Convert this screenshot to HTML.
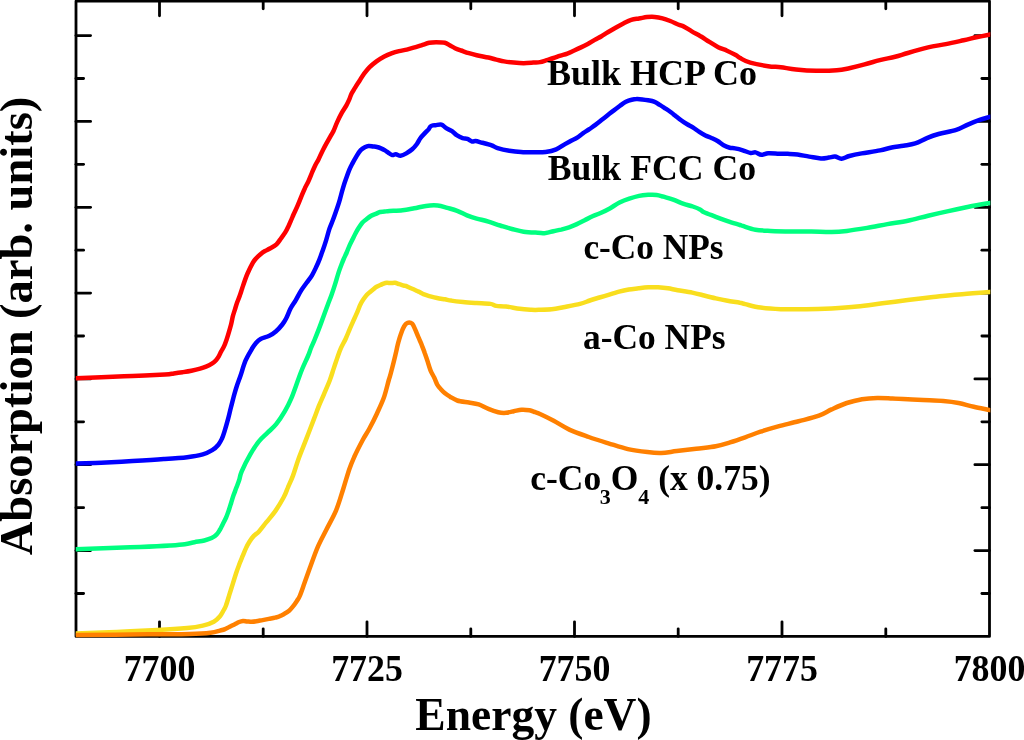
<!DOCTYPE html>
<html><head><meta charset="utf-8"><style>
html,body{margin:0;padding:0;background:#fff;width:1024px;height:740px;overflow:hidden}
svg{display:block}
text{font-family:"Liberation Serif","Times New Roman",serif;font-weight:bold;fill:#000}
</style></head><body>
<svg width="1024" height="740" viewBox="0 0 1024 740">
<g stroke="#000" stroke-width="2.8" stroke-linecap="round" fill="none">
<rect x="76" y="1.2" width="913.5" height="635.1999999999999" stroke-linejoin="round"/>
<line x1="159.5" y1="636.4" x2="159.5" y2="621.8"/>
<line x1="159.5" y1="1.2" x2="159.5" y2="15.8"/>
<line x1="263.2" y1="636.4" x2="263.2" y2="628.8"/>
<line x1="263.2" y1="1.2" x2="263.2" y2="8.8"/>
<line x1="367.0" y1="636.4" x2="367.0" y2="621.8"/>
<line x1="367.0" y1="1.2" x2="367.0" y2="15.8"/>
<line x1="470.8" y1="636.4" x2="470.8" y2="628.8"/>
<line x1="470.8" y1="1.2" x2="470.8" y2="8.8"/>
<line x1="574.5" y1="636.4" x2="574.5" y2="621.8"/>
<line x1="574.5" y1="1.2" x2="574.5" y2="15.8"/>
<line x1="678.2" y1="636.4" x2="678.2" y2="628.8"/>
<line x1="678.2" y1="1.2" x2="678.2" y2="8.8"/>
<line x1="782.0" y1="636.4" x2="782.0" y2="621.8"/>
<line x1="782.0" y1="1.2" x2="782.0" y2="15.8"/>
<line x1="885.8" y1="636.4" x2="885.8" y2="628.8"/>
<line x1="885.8" y1="1.2" x2="885.8" y2="8.8"/>
<line x1="76.0" y1="593.5" x2="83.6" y2="593.5"/>
<line x1="989.5" y1="593.5" x2="981.9" y2="593.5"/>
<line x1="76.0" y1="550.6" x2="90.6" y2="550.6"/>
<line x1="989.5" y1="550.6" x2="974.9" y2="550.6"/>
<line x1="76.0" y1="507.7" x2="83.6" y2="507.7"/>
<line x1="989.5" y1="507.7" x2="981.9" y2="507.7"/>
<line x1="76.0" y1="464.7" x2="90.6" y2="464.7"/>
<line x1="989.5" y1="464.7" x2="974.9" y2="464.7"/>
<line x1="76.0" y1="421.8" x2="83.6" y2="421.8"/>
<line x1="989.5" y1="421.8" x2="981.9" y2="421.8"/>
<line x1="76.0" y1="378.9" x2="90.6" y2="378.9"/>
<line x1="989.5" y1="378.9" x2="974.9" y2="378.9"/>
<line x1="76.0" y1="336.0" x2="83.6" y2="336.0"/>
<line x1="989.5" y1="336.0" x2="981.9" y2="336.0"/>
<line x1="76.0" y1="293.1" x2="90.6" y2="293.1"/>
<line x1="989.5" y1="293.1" x2="974.9" y2="293.1"/>
<line x1="76.0" y1="250.2" x2="83.6" y2="250.2"/>
<line x1="989.5" y1="250.2" x2="981.9" y2="250.2"/>
<line x1="76.0" y1="207.3" x2="90.6" y2="207.3"/>
<line x1="989.5" y1="207.3" x2="974.9" y2="207.3"/>
<line x1="76.0" y1="164.3" x2="83.6" y2="164.3"/>
<line x1="989.5" y1="164.3" x2="981.9" y2="164.3"/>
<line x1="76.0" y1="121.4" x2="90.6" y2="121.4"/>
<line x1="989.5" y1="121.4" x2="974.9" y2="121.4"/>
<line x1="76.0" y1="78.5" x2="83.6" y2="78.5"/>
<line x1="989.5" y1="78.5" x2="981.9" y2="78.5"/>
<line x1="76.0" y1="35.6" x2="90.6" y2="35.6"/>
<line x1="989.5" y1="35.6" x2="974.9" y2="35.6"/>
</g>
<defs><clipPath id="pc"><rect x="75.8" y="-10" width="914.5" height="760"/></clipPath></defs>
<g fill="none" stroke-width="4.5" stroke-linejoin="round" stroke-linecap="butt" clip-path="url(#pc)">
<path d="M73.0,378.3 C73.5,378.3 71.3,378.5 76.0,378.3 C80.7,378.1 91.8,377.7 101.2,377.3 C110.7,376.9 121.9,376.4 132.5,376.0 C143.1,375.6 158.1,375.0 165.0,374.6 C171.9,374.2 170.9,373.8 173.8,373.4 C176.7,373.0 179.7,372.6 182.6,372.2 C185.5,371.8 188.5,371.4 191.4,370.8 C194.3,370.2 197.7,369.4 200.1,368.7 C202.5,368.0 204.0,367.5 206.0,366.7 C208.0,365.9 210.2,364.8 211.9,363.7 C213.6,362.6 214.8,361.5 216.0,360.2 C217.2,358.9 218.0,357.6 218.9,356.1 C219.8,354.6 220.3,353.0 221.2,351.4 C222.1,349.8 223.2,348.2 224.1,346.2 C225.0,344.2 225.9,341.5 226.7,339.2 C227.5,336.9 228.2,334.7 228.9,332.2 C229.6,329.7 230.4,326.9 231.1,324.3 C231.8,321.7 232.2,318.9 232.8,316.4 C233.5,313.9 234.3,311.6 235.0,309.3 C235.7,307.0 236.4,304.6 237.2,302.3 C238.0,300.0 239.1,297.7 239.9,295.3 C240.8,292.9 241.1,291.6 242.3,288.0 C243.5,284.4 245.5,278.2 247.3,274.0 C249.1,269.8 251.4,265.4 252.9,262.7 C254.4,260.0 255.2,259.4 256.5,258.0 C257.8,256.6 259.1,255.4 260.5,254.2 C261.9,253.0 263.4,251.9 265.0,251.0 C266.6,250.1 268.0,249.6 269.9,248.5 C271.8,247.4 274.6,246.1 276.5,244.3 C278.4,242.5 279.9,239.8 281.4,237.8 C282.9,235.8 284.2,234.2 285.4,232.2 C286.6,230.2 287.6,228.0 288.7,225.7 C289.8,223.4 291.1,220.2 291.9,218.4 C292.7,216.6 292.4,217.1 293.3,215.0 C294.2,212.9 296.1,209.1 297.4,206.1 C298.7,203.1 299.9,200.1 301.1,197.1 C302.4,194.1 303.6,190.9 304.9,188.2 C306.1,185.5 307.4,183.5 308.6,180.8 C309.8,178.1 311.2,174.5 312.3,171.9 C313.4,169.3 314.3,167.3 315.3,165.2 C316.3,163.1 317.3,161.9 318.5,159.5 C319.7,157.1 321.2,153.4 322.6,150.7 C324.0,148.0 325.2,145.7 326.6,143.2 C328.0,140.7 329.6,137.8 330.7,135.8 C331.8,133.8 332.4,133.4 333.5,131.0 C334.6,128.6 336.0,124.6 337.4,121.6 C338.8,118.5 340.4,115.4 341.9,112.7 C343.4,110.0 345.2,107.5 346.4,105.3 C347.6,103.1 348.4,101.3 349.3,99.3 C350.2,97.3 350.6,95.4 351.6,93.4 C352.6,91.4 354.0,89.6 355.3,87.4 C356.6,85.2 358.3,82.7 359.7,80.5 C361.1,78.3 362.1,76.3 363.8,74.1 C365.5,71.9 367.5,69.3 369.6,67.2 C371.7,65.1 374.1,63.2 376.5,61.4 C378.9,59.6 381.7,57.9 384.3,56.5 C386.9,55.1 389.7,54.0 392.1,53.1 C394.6,52.2 396.6,51.7 399.0,51.1 C401.4,50.5 404.4,50.2 406.8,49.6 C409.2,49.0 411.2,48.4 413.6,47.7 C416.0,47.0 418.8,46.1 421.4,45.3 C424.0,44.5 426.8,43.3 429.2,42.8 C431.6,42.3 433.5,42.3 436.1,42.3 C438.7,42.3 442.5,42.3 444.8,42.8 C447.1,43.3 448.0,44.4 449.7,45.3 C451.4,46.2 453.1,47.3 455.0,48.2 C456.9,49.1 458.8,49.7 461.1,50.5 C463.4,51.3 466.3,52.4 468.9,53.2 C471.5,54.0 473.4,54.5 476.7,55.2 C479.9,55.9 485.1,56.8 488.4,57.5 C491.7,58.2 493.7,59.0 496.3,59.6 C498.9,60.2 501.2,60.9 504.1,61.4 C507.0,61.9 510.5,62.3 513.8,62.6 C517.0,62.9 520.3,63.2 523.6,63.2 C526.9,63.2 530.7,62.8 533.4,62.6 C536.1,62.4 537.8,62.5 540.0,62.1 C542.2,61.7 544.5,60.8 546.8,60.1 C549.1,59.4 551.4,58.8 553.7,58.0 C556.0,57.2 558.2,56.3 560.5,55.6 C562.8,54.9 565.0,54.5 567.3,53.6 C569.6,52.8 571.9,51.5 574.2,50.5 C576.5,49.5 578.7,48.5 581.0,47.4 C583.3,46.3 585.5,45.2 587.8,44.0 C590.1,42.8 592.4,41.2 594.7,39.9 C597.0,38.6 599.3,37.5 601.5,36.2 C603.7,34.9 605.4,33.7 607.8,32.3 C610.1,30.9 613.0,29.2 615.6,27.7 C618.2,26.2 620.8,24.7 623.4,23.4 C626.0,22.1 628.6,20.6 631.2,19.8 C633.9,19.0 636.4,18.9 639.0,18.5 C641.6,18.1 644.3,17.4 646.9,17.1 C649.5,16.8 652.1,16.7 654.7,16.9 C657.3,17.1 659.9,17.6 662.5,18.3 C665.1,19.0 667.7,20.0 670.3,21.0 C672.9,22.0 676.0,23.6 678.1,24.5 C680.2,25.4 680.7,25.0 683.0,26.1 C685.3,27.2 688.9,29.7 691.8,31.4 C694.7,33.1 697.7,34.5 700.6,36.3 C703.5,38.0 706.5,40.1 709.4,41.9 C712.3,43.7 715.3,45.7 718.2,47.2 C721.1,48.7 724.1,49.4 727.0,50.7 C729.9,52.0 733.5,53.9 735.7,55.1 C737.9,56.3 737.8,56.8 740.2,58.1 C742.6,59.4 745.6,61.4 750.3,62.7 C754.9,64.0 763.0,65.5 768.1,66.2 C773.2,67.0 776.1,66.7 780.8,67.2 C785.4,67.8 790.1,68.9 796.0,69.5 C801.9,70.1 809.5,70.7 816.3,70.8 C823.1,70.9 831.2,70.7 836.7,70.3 C842.2,69.9 844.6,69.2 849.3,68.2 C853.9,67.2 859.5,65.8 864.6,64.4 C869.7,63.1 874.7,61.4 879.8,60.1 C884.9,58.8 890.4,58.0 895.1,56.8 C899.8,55.6 902.2,54.6 907.8,53.0 C913.2,51.4 921.8,48.9 928.1,47.4 C934.4,45.9 939.9,45.3 945.8,44.1 C951.7,42.9 958.5,41.4 963.6,40.3 C968.7,39.2 972.1,38.2 976.3,37.3 C980.5,36.4 986.2,35.3 989.0,34.7 C991.8,34.1 992.3,34.0 993.0,33.9" stroke="#ff0000"/>
<path d="M73.0,463.6 C73.5,463.6 71.3,463.8 76.0,463.6 C80.7,463.5 91.8,463.1 101.2,462.7 C110.7,462.3 122.1,461.7 132.5,461.1 C142.9,460.5 154.6,459.8 163.8,459.1 C172.9,458.5 180.7,458.0 187.2,457.2 C193.7,456.4 198.6,455.6 202.8,454.4 C207.0,453.2 209.6,451.8 212.2,450.2 C214.8,448.6 216.8,446.6 218.4,444.7 C220.0,442.8 221.0,440.6 222.0,438.5 C223.0,436.4 223.3,435.4 224.3,432.1 C225.3,428.8 227.0,422.9 228.1,418.8 C229.2,414.7 229.9,411.3 230.9,407.5 C231.9,403.7 232.9,399.7 233.8,396.2 C234.8,392.7 235.5,390.1 236.6,386.7 C237.7,383.3 238.9,380.3 240.4,376.0 C241.9,371.7 243.6,365.2 245.5,360.7 C247.4,356.2 250.2,351.8 251.9,348.8 C253.7,345.9 254.6,344.6 256.0,343.0 C257.4,341.4 258.4,340.2 260.6,339.0 C262.8,337.8 266.8,337.1 269.3,335.8 C271.8,334.6 273.6,333.4 275.8,331.5 C278.0,329.6 280.6,326.7 282.3,324.5 C284.0,322.3 284.8,321.1 286.1,318.5 C287.5,315.9 288.8,311.9 290.4,308.8 C292.0,305.7 294.0,303.2 295.8,300.1 C297.6,297.0 299.4,293.3 301.2,290.4 C303.0,287.5 304.8,285.3 306.6,282.8 C308.4,280.3 310.4,278.0 312.0,275.3 C313.6,272.6 315.1,269.3 316.4,266.6 C317.7,263.9 318.5,261.9 319.6,259.1 C320.7,256.3 321.8,253.1 322.9,250.0 C324.0,246.9 325.0,243.8 326.1,240.3 C327.2,236.8 328.3,232.2 329.4,228.9 C330.5,225.7 331.5,223.6 332.6,220.8 C333.7,218.0 334.7,215.0 335.8,211.9 C336.9,208.8 337.9,206.1 339.1,202.2 C340.3,198.3 341.7,192.2 342.9,188.3 C344.1,184.4 345.0,181.7 346.1,178.6 C347.2,175.5 348.3,172.2 349.4,169.6 C350.5,167.0 351.4,165.4 352.6,163.1 C353.8,160.8 355.4,158.0 356.7,155.8 C358.0,153.7 359.3,151.6 360.7,150.2 C362.1,148.8 363.4,148.0 364.8,147.3 C366.2,146.6 367.5,146.1 368.8,145.9 C370.1,145.8 371.5,146.2 372.9,146.4 C374.2,146.6 375.5,146.7 376.9,147.0 C378.2,147.3 379.6,147.8 381.0,148.4 C382.4,149.0 383.8,149.7 385.0,150.4 C386.2,151.1 387.3,152.0 388.5,152.8 C389.7,153.6 391.1,154.8 392.3,155.1 C393.5,155.3 394.4,154.2 395.8,154.3 C397.2,154.4 398.8,155.8 400.5,155.7 C402.2,155.5 404.4,154.5 406.3,153.4 C408.2,152.3 410.4,150.9 412.2,149.3 C414.0,147.7 415.5,145.9 416.9,144.0 C418.3,142.1 419.0,139.9 420.4,138.1 C421.8,136.2 423.7,134.4 425.1,132.9 C426.5,131.4 427.7,130.4 428.6,129.3 C429.5,128.2 429.7,127.2 430.4,126.5 C431.1,125.8 432.1,125.6 433.0,125.4 C433.9,125.2 434.2,125.3 435.6,125.2 C437.0,125.1 439.7,124.1 441.5,124.6 C443.3,125.1 444.4,127.1 446.2,128.2 C447.9,129.3 450.2,129.9 452.0,131.1 C453.8,132.3 454.9,134.0 456.7,135.2 C458.5,136.4 460.8,137.5 462.6,138.1 C464.4,138.7 465.7,138.3 467.3,138.9 C468.9,139.5 470.6,141.2 472.0,141.5 C473.4,141.8 473.8,140.8 475.5,141.0 C477.2,141.2 479.8,142.1 482.5,142.8 C485.2,143.5 489.2,144.5 491.7,145.4 C494.2,146.3 494.7,147.2 497.6,148.1 C500.5,149.0 505.4,150.1 509.3,150.7 C513.2,151.3 517.1,151.7 521.0,151.9 C524.9,152.2 528.6,152.2 532.8,152.2 C536.9,152.2 541.7,152.4 545.6,151.9 C549.5,151.4 553.0,150.6 556.2,149.3 C559.4,148.0 562.5,145.5 565.0,144.1 C567.5,142.7 569.1,141.8 571.1,140.7 C573.1,139.6 575.2,139.0 577.2,137.7 C579.2,136.4 581.2,134.5 583.2,133.1 C585.2,131.7 587.3,130.6 589.3,129.2 C591.3,127.8 593.4,126.4 595.4,124.9 C597.4,123.4 599.5,121.7 601.5,120.1 C603.5,118.5 605.6,116.8 607.6,115.2 C609.6,113.6 611.5,112.2 613.6,110.6 C615.7,109.0 618.0,107.3 620.0,105.8 C622.0,104.3 623.9,102.7 625.9,101.7 C627.9,100.7 630.0,100.1 631.7,99.7 C633.5,99.3 634.6,99.1 636.4,99.1 C638.2,99.0 640.3,99.2 642.3,99.4 C644.2,99.6 646.1,99.9 648.1,100.3 C650.1,100.7 652.0,100.9 654.0,101.7 C656.0,102.5 657.8,103.7 659.8,104.9 C661.8,106.1 663.7,107.4 665.7,108.7 C667.7,110.0 670.1,111.7 671.6,112.8 C673.1,113.9 673.4,114.2 675.0,115.4 C676.6,116.7 679.1,118.8 681.1,120.3 C683.1,121.8 685.2,123.1 687.2,124.3 C689.2,125.5 691.2,126.3 693.2,127.6 C695.2,128.9 697.3,130.6 699.3,131.9 C701.3,133.2 703.4,134.5 705.4,135.5 C707.4,136.5 709.5,137.1 711.5,138.0 C713.5,138.9 715.6,139.8 717.6,141.0 C719.6,142.2 721.6,144.2 723.6,145.3 C725.6,146.4 727.8,147.2 729.7,147.7 C731.6,148.2 732.8,148.0 735.0,148.4 C737.2,148.8 740.2,149.5 742.8,150.3 C745.4,151.1 748.5,152.7 750.6,153.0 C752.7,153.3 753.7,152.1 755.5,152.4 C757.3,152.7 759.3,154.7 761.4,154.8 C763.5,155.0 765.3,153.5 768.2,153.3 C771.1,153.1 775.8,153.6 779.0,153.7 C782.2,153.8 784.6,153.7 787.7,153.8 C790.8,154.0 793.9,154.1 797.5,154.6 C801.1,155.1 805.3,156.0 809.2,156.6 C813.1,157.2 817.6,158.2 820.9,158.4 C824.2,158.6 826.4,157.9 828.8,157.6 C831.1,157.3 832.9,156.4 835.0,156.6 C837.1,156.8 839.1,158.8 841.5,158.7 C843.9,158.6 846.0,156.9 849.4,156.0 C852.8,155.1 856.6,154.3 861.7,153.4 C866.8,152.5 875.0,151.4 880.0,150.4 C885.0,149.4 887.8,148.3 891.7,147.5 C895.6,146.7 899.5,146.4 903.4,145.7 C907.3,145.0 911.3,144.7 915.2,143.4 C919.1,142.1 923.0,139.7 926.9,138.1 C930.8,136.5 933.7,135.4 938.6,134.0 C943.5,132.6 951.3,131.5 956.2,129.9 C961.1,128.3 964.0,126.3 967.9,124.6 C971.8,122.9 975.9,121.2 979.6,119.9 C983.3,118.6 987.8,117.5 990.0,116.8 C992.2,116.1 992.5,116.1 993.0,115.9" stroke="#0000ff"/>
<path d="M73.0,549.3 C73.5,549.3 69.8,549.5 76.0,549.3 C82.2,549.1 99.3,548.4 110.0,548.0 C120.7,547.6 130.0,547.4 140.0,547.0 C150.0,546.6 162.5,546.0 170.0,545.5 C177.5,545.0 180.7,544.8 184.8,544.2 C188.9,543.7 191.2,542.8 194.5,542.2 C197.8,541.6 201.5,541.2 204.3,540.5 C207.2,539.8 209.6,539.1 211.6,538.1 C213.6,537.1 215.1,536.0 216.5,534.6 C217.9,533.2 218.9,531.4 219.9,529.8 C220.9,528.2 221.4,526.9 222.4,524.9 C223.4,522.9 224.9,520.2 226.0,517.8 C227.1,515.3 227.9,512.7 228.8,510.2 C229.7,507.7 230.4,505.2 231.2,502.7 C232.0,500.2 232.7,497.6 233.6,495.1 C234.5,492.6 235.5,490.1 236.4,487.6 C237.3,485.1 238.3,482.7 239.2,480.0 C240.1,477.3 239.8,475.9 241.6,471.6 C243.4,467.3 247.4,459.3 250.3,454.3 C253.2,449.3 256.0,445.0 258.9,441.4 C261.8,437.8 264.7,435.6 267.6,432.7 C270.5,429.8 273.3,427.7 276.2,424.1 C279.1,420.5 282.4,415.4 284.9,411.1 C287.4,406.8 289.2,403.2 291.4,398.1 C293.5,393.1 296.0,385.7 297.8,380.8 C299.6,375.9 300.5,373.1 302.2,369.0 C303.9,364.9 306.3,360.0 307.8,356.5 C309.3,353.0 309.9,350.8 311.0,348.0 C312.1,345.2 313.1,343.4 314.5,340.0 C315.9,336.6 317.7,332.1 319.3,327.9 C320.9,323.6 322.8,318.4 324.2,314.5 C325.6,310.6 326.6,307.9 327.8,304.7 C329.0,301.4 330.3,298.4 331.5,295.0 C332.7,291.6 333.9,288.0 335.1,284.1 C336.3,280.2 337.7,275.2 338.8,271.9 C339.9,268.6 340.7,266.6 341.5,264.5 C342.3,262.4 342.8,261.0 343.7,259.0 C344.6,257.0 345.7,254.8 346.7,252.5 C347.7,250.2 348.7,247.3 349.7,245.1 C350.7,242.9 351.6,241.2 352.6,239.2 C353.6,237.2 354.6,235.1 355.6,233.2 C356.6,231.3 357.5,229.7 358.6,228.0 C359.7,226.3 361.0,224.3 362.3,222.8 C363.6,221.3 365.2,220.3 366.7,219.1 C368.2,217.9 369.7,216.7 371.2,215.8 C372.7,214.9 374.2,214.5 375.7,213.9 C377.2,213.3 378.6,212.4 380.1,212.0 C381.6,211.6 383.0,211.8 384.6,211.6 C386.2,211.4 386.5,211.2 389.5,211.0 C392.5,210.8 398.4,210.6 402.5,210.2 C406.6,209.8 410.3,209.0 414.2,208.3 C418.1,207.6 422.0,206.4 425.9,205.9 C429.8,205.4 434.1,205.2 437.7,205.5 C441.3,205.8 444.1,207.0 447.4,207.9 C450.6,208.8 453.9,209.6 457.2,210.8 C460.5,212.0 463.8,214.0 467.0,215.3 C470.2,216.6 473.1,217.6 476.7,218.6 C480.3,219.6 484.5,220.4 488.4,221.6 C492.3,222.8 496.3,224.3 500.2,225.5 C504.1,226.7 508.0,228.0 511.9,229.0 C515.8,230.0 519.3,231.1 523.6,231.7 C527.9,232.3 534.1,232.5 537.8,232.7 C541.5,232.9 543.0,233.3 545.6,233.1 C548.2,232.8 550.8,231.8 553.4,231.2 C556.0,230.6 558.6,230.2 561.2,229.6 C563.9,228.9 566.5,228.2 569.1,227.3 C571.7,226.4 574.3,225.3 576.9,224.1 C579.5,222.9 582.1,221.5 584.7,220.2 C587.3,218.9 590.0,217.5 592.5,216.3 C595.0,215.2 597.1,214.6 600.0,213.3 C602.9,212.0 606.5,210.2 609.8,208.4 C613.0,206.6 616.2,204.2 619.5,202.6 C622.8,201.0 626.0,199.8 629.3,198.7 C632.6,197.6 635.9,196.6 639.1,195.9 C642.4,195.2 645.9,195.0 648.8,194.8 C651.7,194.6 654.1,194.6 656.6,194.9 C659.1,195.2 660.7,195.9 663.5,196.7 C666.3,197.5 670.0,198.4 673.2,199.6 C676.5,200.8 679.7,202.4 683.0,203.6 C686.3,204.8 690.0,205.5 692.8,206.5 C695.6,207.5 698.1,208.4 700.0,209.4 C701.9,210.4 701.5,211.1 704.1,212.3 C706.7,213.5 711.9,215.3 715.8,216.8 C719.7,218.3 723.5,219.7 727.5,221.1 C731.5,222.5 737.5,224.2 740.0,225.0 C742.5,225.8 740.1,225.1 742.7,225.9 C745.3,226.7 750.8,228.9 755.4,229.7 C760.0,230.5 764.7,230.6 770.6,230.9 C776.5,231.2 784.2,231.4 791.0,231.5 C797.8,231.6 804.5,231.4 811.3,231.5 C818.1,231.6 825.7,232.1 831.6,232.0 C837.5,231.9 840.9,231.6 846.8,230.9 C852.7,230.2 860.3,229.0 867.1,227.9 C873.9,226.8 880.6,225.3 887.4,224.1 C894.2,222.9 901.0,222.2 907.8,220.8 C914.5,219.4 921.3,217.3 928.1,215.7 C934.9,214.1 941.6,212.6 948.4,211.1 C955.2,209.6 961.8,208.2 968.7,206.8 C975.6,205.5 986.0,203.7 990.0,203.0 C994.0,202.3 992.5,202.6 993.0,202.5" stroke="#00ff80"/>
<path d="M73.0,633.4 C73.5,633.4 68.7,633.6 76.0,633.4 C83.3,633.1 103.3,632.5 116.9,631.9 C130.5,631.3 145.8,630.6 157.5,630.0 C169.2,629.4 179.6,628.7 187.2,628.0 C194.8,627.3 198.4,626.6 202.8,625.6 C207.2,624.6 210.9,623.3 213.8,621.7 C216.6,620.1 218.4,618.1 220.0,616.2 C221.6,614.4 222.5,612.3 223.5,610.5 C224.5,608.7 224.9,608.3 225.9,605.7 C226.9,603.1 228.2,598.5 229.3,594.9 C230.4,591.3 231.6,587.7 232.7,584.1 C233.8,580.5 235.0,576.6 236.1,573.2 C237.2,569.8 238.4,566.7 239.5,563.8 C240.6,560.9 241.7,558.4 242.8,555.7 C243.9,553.0 245.1,550.0 246.2,547.6 C247.3,545.2 248.4,543.4 249.6,541.5 C250.8,539.6 252.0,537.8 253.6,536.1 C255.2,534.4 256.9,533.7 259.0,531.4 C261.1,529.1 263.7,525.5 266.4,522.2 C269.1,518.9 272.2,515.5 275.1,511.4 C278.0,507.2 281.5,501.4 283.7,497.3 C285.9,493.2 286.6,490.6 288.1,487.0 C289.7,483.4 291.4,479.9 293.0,475.6 C294.6,471.3 296.2,465.6 297.8,461.0 C299.4,456.4 300.9,452.7 302.7,448.1 C304.5,443.5 306.5,438.4 308.4,433.5 C310.3,428.6 312.2,423.5 314.0,418.9 C315.8,414.3 317.3,409.9 318.9,405.9 C320.5,401.8 322.0,398.9 323.8,394.6 C325.6,390.3 328.3,384.2 329.9,380.0 C331.5,375.8 332.3,372.8 333.5,369.1 C334.7,365.5 336.0,361.6 337.2,358.1 C338.4,354.7 339.4,351.6 340.8,348.4 C342.2,345.2 344.3,341.8 345.7,338.7 C347.1,335.6 348.1,333.0 349.3,330.1 C350.5,327.2 351.6,324.8 353.0,321.6 C354.4,318.5 356.5,314.1 357.7,311.2 C358.9,308.3 359.4,306.4 360.4,304.4 C361.4,302.4 362.5,300.6 363.6,299.0 C364.7,297.4 365.8,295.9 366.9,294.7 C368.0,293.5 369.0,292.9 370.1,292.0 C371.2,291.1 372.3,290.2 373.4,289.3 C374.5,288.4 375.4,287.5 376.6,286.8 C377.8,286.1 379.2,285.5 380.4,285.0 C381.6,284.5 382.5,284.0 383.6,283.6 C384.7,283.2 385.7,282.9 386.9,282.8 C388.1,282.7 389.3,283.1 390.7,283.1 C392.1,283.1 393.6,282.6 395.0,282.8 C396.4,283.0 397.9,283.8 399.3,284.2 C400.7,284.6 402.5,285.2 403.6,285.5 C404.7,285.8 404.5,285.4 405.8,285.9 C407.1,286.4 409.5,287.6 411.6,288.5 C413.7,289.4 416.5,290.7 418.5,291.6 C420.5,292.6 421.6,293.4 423.4,294.2 C425.2,294.9 426.9,295.5 429.2,296.1 C431.5,296.7 434.4,297.5 437.0,298.0 C439.6,298.5 442.4,298.9 444.8,299.3 C447.2,299.7 448.3,300.2 451.3,300.6 C454.3,301.1 458.8,301.6 463.0,302.0 C467.2,302.4 472.1,302.7 476.7,303.0 C481.3,303.3 487.1,303.4 490.4,303.9 C493.7,304.4 493.7,305.5 496.3,305.9 C498.9,306.3 502.1,306.0 506.0,306.5 C509.9,307.0 515.5,308.2 519.7,308.8 C523.9,309.4 528.0,309.6 531.4,309.8 C534.8,310.0 536.6,309.9 540.0,309.8 C543.4,309.7 547.8,309.6 551.7,309.2 C555.6,308.8 558.7,308.1 563.4,307.2 C568.1,306.3 575.6,305.0 580.0,303.9 C584.4,302.8 586.5,301.6 589.8,300.5 C593.0,299.4 596.2,298.5 599.5,297.5 C602.8,296.5 606.0,295.6 609.3,294.6 C612.6,293.6 615.9,292.6 619.1,291.7 C622.4,290.8 625.5,290.1 628.8,289.5 C632.0,288.9 635.3,288.7 638.6,288.3 C641.9,287.9 645.1,287.5 648.4,287.3 C651.6,287.1 654.9,287.1 658.1,287.3 C661.4,287.5 664.6,287.8 667.9,288.3 C671.2,288.8 673.6,289.5 677.7,290.2 C681.8,290.9 687.9,291.7 692.3,292.6 C696.7,293.5 700.2,294.5 704.1,295.5 C708.0,296.5 711.9,297.5 715.8,298.4 C719.7,299.3 723.5,300.1 727.5,300.8 C731.5,301.5 737.0,302.1 740.0,302.7 C743.0,303.2 741.8,303.3 745.2,304.1 C748.6,304.9 754.6,306.8 760.5,307.6 C766.4,308.5 773.2,308.9 780.8,309.2 C788.4,309.5 797.7,309.3 806.2,309.2 C814.7,309.1 823.1,308.8 831.6,308.4 C840.1,308.0 848.5,307.5 857.0,306.6 C865.5,305.8 873.9,304.4 882.4,303.3 C890.9,302.2 899.3,301.1 907.8,300.0 C916.2,298.9 924.6,297.9 933.1,297.0 C941.6,296.1 949.0,295.2 958.5,294.4 C968.0,293.5 984.2,292.4 990.0,291.9 C995.8,291.4 992.5,291.7 993.0,291.7" stroke="#f9de1e"/>
<path d="M73.0,635.0 C73.5,635.0 63.5,635.1 76.0,635.0 C88.5,634.9 129.1,634.5 148.0,634.3 C166.9,634.1 179.1,634.3 189.5,634.0 C199.9,633.7 205.4,633.3 210.5,632.7 C215.6,632.1 217.5,631.2 219.9,630.6 C222.3,630.0 223.4,629.8 225.0,629.1 C226.6,628.5 228.1,627.5 229.7,626.7 C231.3,625.9 232.8,625.2 234.4,624.4 C236.0,623.6 237.7,622.6 239.1,622.0 C240.5,621.4 241.7,621.0 243.0,620.9 C244.3,620.8 245.5,621.2 246.9,621.4 C248.3,621.5 250.0,621.8 251.6,621.8 C253.2,621.8 254.5,621.6 256.3,621.3 C258.1,621.0 260.4,620.5 262.5,620.1 C264.6,619.7 266.7,619.3 268.8,618.9 C270.8,618.5 273.2,618.2 275.0,617.7 C276.8,617.2 278.1,616.9 279.7,616.2 C281.3,615.6 282.8,614.7 284.4,613.8 C286.0,612.9 287.7,611.9 289.1,610.7 C290.5,609.5 291.7,608.0 293.0,606.4 C294.3,604.8 295.7,602.7 296.9,600.9 C298.1,599.1 298.8,598.4 300.0,595.5 C301.2,592.6 302.6,588.4 304.3,583.6 C306.0,578.8 308.2,572.6 310.4,566.5 C312.6,560.4 315.1,553.2 317.7,547.1 C320.3,541.0 323.1,536.1 326.2,530.0 C329.2,523.9 333.1,517.5 336.0,510.6 C338.9,503.7 341.1,495.6 343.3,488.7 C345.5,481.8 347.5,474.5 349.3,469.2 C351.1,463.9 352.0,461.9 354.2,457.0 C356.4,452.1 360.2,444.7 362.7,440.0 C365.2,435.3 366.9,433.3 369.3,428.8 C371.7,424.3 374.7,418.4 377.1,413.2 C379.5,408.0 381.9,403.1 383.9,397.6 C385.8,392.1 387.6,384.1 388.8,380.0 C390.0,375.9 389.7,377.5 390.8,373.3 C391.9,369.1 394.3,359.7 395.4,355.0 C396.5,350.3 396.9,348.2 397.6,345.3 C398.3,342.4 399.0,340.1 399.7,337.7 C400.4,335.3 401.2,333.1 401.9,331.2 C402.6,329.3 403.4,327.7 404.1,326.4 C404.8,325.1 405.4,324.3 406.2,323.6 C407.0,322.9 408.2,322.4 409.2,322.4 C410.2,322.4 411.4,322.9 412.2,323.6 C413.0,324.3 413.2,325.1 413.8,326.4 C414.4,327.7 415.1,329.3 415.9,331.2 C416.7,333.1 417.8,335.9 418.6,337.7 C419.4,339.5 419.9,340.7 420.5,342.0 C421.1,343.3 421.3,343.8 422.0,345.7 C422.7,347.6 423.9,350.5 424.8,353.2 C425.8,355.9 426.8,358.8 427.7,361.7 C428.6,364.6 429.4,367.6 430.5,370.3 C431.6,373.0 433.2,375.5 434.3,377.8 C435.4,380.1 436.2,382.7 437.1,384.4 C438.1,386.1 438.7,386.8 440.0,388.2 C441.3,389.6 443.0,391.6 444.7,393.0 C446.4,394.4 447.9,395.4 450.0,396.7 C452.1,397.9 454.1,399.5 457.2,400.5 C460.3,401.5 465.3,401.9 468.9,402.5 C472.5,403.1 475.4,403.3 478.7,404.4 C481.9,405.5 485.1,407.6 488.4,408.9 C491.6,410.2 495.3,411.5 498.2,412.2 C501.1,412.9 503.4,413.0 506.0,412.8 C508.6,412.6 511.2,411.8 513.8,411.2 C516.4,410.7 519.0,409.9 521.6,409.7 C524.2,409.5 527.2,409.9 529.5,410.3 C531.8,410.7 533.5,411.6 535.3,412.2 C537.0,412.8 536.9,412.6 540.0,414.0 C543.1,415.4 548.8,418.2 553.7,420.8 C558.6,423.4 563.4,426.9 569.3,429.6 C575.1,432.3 582.3,434.7 588.8,437.0 C595.3,439.3 601.9,441.3 608.4,443.3 C614.9,445.3 621.4,447.6 627.9,449.1 C634.4,450.6 641.9,451.5 647.4,452.1 C652.9,452.8 656.2,453.2 661.1,453.0 C666.0,452.8 670.8,451.8 676.7,451.1 C682.6,450.4 689.7,449.6 696.2,448.8 C702.8,447.9 710.2,447.3 715.8,446.2 C721.4,445.1 725.1,443.9 730.0,442.4 C734.9,440.9 740.1,439.1 745.2,437.3 C750.3,435.5 755.0,433.5 760.5,431.7 C766.0,429.9 771.9,428.1 778.2,426.4 C784.6,424.7 791.8,423.1 798.6,421.3 C805.4,419.5 813.4,417.7 818.9,415.7 C824.4,413.7 827.0,411.5 831.6,409.4 C836.2,407.3 841.7,404.7 846.8,403.0 C851.9,401.3 856.9,400.1 862.0,399.2 C867.1,398.3 872.2,398.0 877.3,397.9 C882.4,397.8 887.4,398.2 892.5,398.4 C897.6,398.6 902.7,398.9 907.8,399.2 C912.8,399.5 917.1,399.7 923.0,400.0 C928.9,400.3 937.4,400.5 943.3,401.0 C949.2,401.5 953.4,402.0 958.5,403.0 C963.6,404.0 968.5,405.6 973.8,406.8 C979.0,408.0 986.8,409.4 990.0,410.1 C993.2,410.8 992.5,410.6 993.0,410.7" stroke="#ff8000"/>
</g>
<g font-size="37.2" text-anchor="middle">
<text transform="translate(159.5,680.6) scale(0.963,1)">7700</text>
<text transform="translate(367.0,680.6) scale(0.963,1)">7725</text>
<text transform="translate(574.5,680.6) scale(0.963,1)">7750</text>
<text transform="translate(782.0,680.6) scale(0.963,1)">7775</text>
<text transform="translate(989.5,680.6) scale(0.963,1)">7800</text>
</g>
<text x="533.5" y="730" font-size="45.5" text-anchor="middle">Energy (eV)</text>
<text transform="translate(31.8,326) rotate(-90)" font-size="46.5" text-anchor="middle">Absorption (arb. units)</text>
<g font-size="36">
<text x="547" y="85">Bulk HCP Co</text>
<text x="547.8" y="180" font-size="35.7">Bulk FCC Co</text>
<text x="583.4" y="259" font-size="35.3">c-Co NPs</text>
<text x="583" y="349" font-size="35.4">a-Co NPs</text>
<text x="530.2" y="490" font-size="35.5">c-Co<tspan font-size="22" dx="-1.5" dy="13.8">3</tspan><tspan dy="-13.8">O</tspan><tspan font-size="22" dy="13.8">4</tspan><tspan dy="-13.8"> (x 0.75)</tspan></text>
</g>
</svg>
</body></html>
